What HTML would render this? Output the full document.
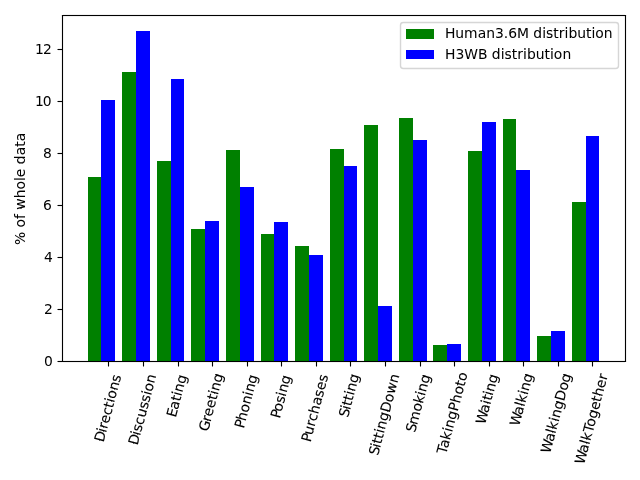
<!DOCTYPE html>
<html lang="en">
<head>
<meta charset="utf-8">
<title>Human3.6M vs H3WB distribution</title>
<style>
html,body{margin:0;padding:0;background:#fff;}
body{width:640px;height:480px;overflow:hidden;}
svg{display:block;}
text{font-family:"DejaVu Sans","Liberation Sans",sans-serif;font-size:13.8889px;fill:#000;}
.xl{stroke:#000;stroke-width:0.1px;}
.yl{stroke:#000;stroke-width:0.04px;}
.lg{stroke:#000;stroke-width:0.03px;}
.bar{shape-rendering:crispEdges;}
.ln{stroke:#000;stroke-width:1.1111;fill:none;}
</style>
</head>
<body>
<svg width="640" height="480" viewBox="0 0 640 480">
<rect x="0" y="0" width="640" height="480" fill="#ffffff"/>
<g class="bar" fill="#008000">
<rect x="88" y="177" width="13" height="184"/>
<rect x="122" y="72" width="14" height="289"/>
<rect x="157" y="161" width="14" height="200"/>
<rect x="191" y="229" width="14" height="132"/>
<rect x="226" y="150" width="14" height="211"/>
<rect x="261" y="234" width="13" height="127"/>
<rect x="295" y="246" width="14" height="115"/>
<rect x="330" y="149" width="14" height="212"/>
<rect x="364" y="125" width="14" height="236"/>
<rect x="399" y="118" width="14" height="243"/>
<rect x="433" y="345" width="14" height="16"/>
<rect x="468" y="151" width="14" height="210"/>
<rect x="503" y="119" width="13" height="242"/>
<rect x="537" y="336" width="14" height="25"/>
<rect x="572" y="202" width="14" height="159"/>
</g>
<g class="bar" fill="#0000ff">
<rect x="101" y="100" width="14" height="261"/>
<rect x="136" y="31" width="14" height="330"/>
<rect x="171" y="79" width="13" height="282"/>
<rect x="205" y="221" width="14" height="140"/>
<rect x="240" y="187" width="14" height="174"/>
<rect x="274" y="222" width="14" height="139"/>
<rect x="309" y="255" width="14" height="106"/>
<rect x="344" y="166" width="13" height="195"/>
<rect x="378" y="306" width="14" height="55"/>
<rect x="413" y="140" width="14" height="221"/>
<rect x="447" y="344" width="14" height="17"/>
<rect x="482" y="122" width="14" height="239"/>
<rect x="516" y="170" width="14" height="191"/>
<rect x="551" y="331" width="14" height="30"/>
<rect x="586" y="136" width="13" height="225"/>
</g>
<g class="ln">
<line x1="108.5" y1="361.4" x2="108.5" y2="366.5"/>
<line x1="143.5" y1="361.4" x2="143.5" y2="366.5"/>
<line x1="178.5" y1="361.4" x2="178.5" y2="366.5"/>
<line x1="212.5" y1="361.4" x2="212.5" y2="366.5"/>
<line x1="247.5" y1="361.4" x2="247.5" y2="366.5"/>
<line x1="281.5" y1="361.4" x2="281.5" y2="366.5"/>
<line x1="316.5" y1="361.4" x2="316.5" y2="366.5"/>
<line x1="350.5" y1="361.4" x2="350.5" y2="366.5"/>
<line x1="385.5" y1="361.4" x2="385.5" y2="366.5"/>
<line x1="420.5" y1="361.4" x2="420.5" y2="366.5"/>
<line x1="454.5" y1="361.4" x2="454.5" y2="366.5"/>
<line x1="489.5" y1="361.4" x2="489.5" y2="366.5"/>
<line x1="523.5" y1="361.4" x2="523.5" y2="366.5"/>
<line x1="558.5" y1="361.4" x2="558.5" y2="366.5"/>
<line x1="592.5" y1="361.4" x2="592.5" y2="366.5"/>
<line x1="62.6" y1="361.5" x2="57.5" y2="361.5"/>
<line x1="62.6" y1="309.5" x2="57.5" y2="309.5"/>
<line x1="62.6" y1="257.5" x2="57.5" y2="257.5"/>
<line x1="62.6" y1="205.5" x2="57.5" y2="205.5"/>
<line x1="62.6" y1="153.5" x2="57.5" y2="153.5"/>
<line x1="62.6" y1="101.5" x2="57.5" y2="101.5"/>
<line x1="62.6" y1="49.5" x2="57.5" y2="49.5"/>
<rect class="bar" x="63" y="14" width="562" height="3" fill="#000" stroke="none" opacity="0.055"/>
<rect class="bar" x="63" y="360" width="562" height="3" fill="#000" stroke="none" opacity="0.055"/>
<line x1="62.5" y1="14.95" x2="62.5" y2="362.05"/>
<line x1="625.5" y1="14.95" x2="625.5" y2="362.05"/>
<line x1="61.95" y1="15.5" x2="626.05" y2="15.5"/>
<line x1="61.95" y1="361.5" x2="626.05" y2="361.5"/>
</g>
<rect x="400.5" y="22.5" width="218" height="46" rx="2.778" ry="2.778" fill="#ffffff" stroke="#cccccc" stroke-width="1.3889" opacity="0.8"/>
<rect class="bar" x="406" y="29" width="28" height="10" fill="#008000"/>
<rect class="bar" x="406" y="50" width="28" height="9" fill="#0000ff"/>
<text id="t0" class="xl" transform="translate(103.359 443.369) rotate(-75)" x="0.750 10.422 14.281 19.688 28.219 35.844 41.531 45.391 53.875 62.422" y="0">Directions</text>
<text id="t1" class="xl" transform="translate(137.294 446.765) rotate(-75)" x="1.000 10.922 14.781 21.766 29.641 38.438 45.406 52.641 56.500 64.984" y="0">Discussion</text>
<text id="t2" class="xl" transform="translate(175.484 418.722) rotate(-75)" x="0.750 8.766 17.266 22.703 26.562 35.344" y="0">Eating</text>
<text id="t3" class="xl" transform="translate(207.694 432.816) rotate(-75)" x="0.750 10.750 16.141 24.688 33.219 38.656 42.516 51.312" y="0">Greeting</text>
<text id="t4" class="xl" transform="translate(243.444 429.732) rotate(-75)" x="0.750 8.359 17.156 25.641 34.188 38.297 46.828" y="0">Phoning</text>
<text id="t5" class="xl" transform="translate(279.499 419.746) rotate(-75)" x="0.750 7.859 16.359 23.328 27.438 35.984" y="0">Posing</text>
<text id="t6" class="xl" transform="translate(310.205 443.595) rotate(-75)" x="0.750 8.109 16.906 22.312 29.938 38.984 47.234 54.469 63.000" y="0">Purchases</text>
<text id="t7" class="xl" transform="translate(347.739 418.718) rotate(-75)" x="0.750 8.547 12.406 17.844 23.531 27.391 36.188" y="0">Sitting</text>
<text id="t8" class="xl" transform="translate(377.757 456.701) rotate(-75)" x="0.750 8.547 12.406 17.844 23.531 27.391 36.188 44.984 55.672 64.172 75.516" y="0">SittingDown</text>
<text id="t9" class="xl" transform="translate(414.823 433.901) rotate(-75)" x="1.000 8.797 22.312 30.797 38.594 42.688 51.484" y="0">Smoking</text>
<text id="t10" class="xl" transform="translate(446.063 454.715) rotate(-75)" x="0.000 6.172 14.422 22.703 26.562 35.359 44.156 52.531 61.578 69.812 75.500" y="0">TakingPhoto</text>
<text id="t11" class="xl" transform="translate(484.732 425.699) rotate(-75)" x="0.750 12.578 21.078 25.188 30.375 34.469 43.266" y="0">Waiting</text>
<text id="t12" class="xl" transform="translate(518.811 427.577) rotate(-75)" x="0.750 12.578 21.078 24.938 33.219 37.078 45.859" y="0">Walking</text>
<text id="t13" class="xl" transform="translate(549.856 454.596) rotate(-75)" x="0.500 12.828 21.078 24.938 33.219 37.078 45.859 54.672 65.609 73.844" y="0">WalkingDog</text>
<text id="t14" class="xl" transform="translate(583.812 465.541) rotate(-75)" x="0.500 12.578 21.078 24.938 33.219 39.328 47.828 56.625 64.922 70.609 79.156 87.688" y="0">WalkTogether</text>
<text id="t15" x="43.905" y="366.000">0</text>
<text id="t16" x="43.949" y="314.000">2</text>
<text id="t17" x="43.880" y="262.000">4</text>
<text id="t18" x="42.956" y="210.000">6</text>
<text id="t19" x="42.889" y="158.000">8</text>
<text id="t20" x="34.959 42.771" y="106.000">10</text>
<text id="t21" x="34.892 42.954" y="54.000">12</text>
<text id="t22" class="yl" transform="translate(24.573 188.944) rotate(-90)" x="-56.039 -42.867 -38.445 -29.961 -25.086 -20.914 -9.320 -0.523 7.961 11.820 20.352 24.758 33.820 42.320 47.758" y="0">% of whole data</text>
<text id="t23" class="lg" x="444.954 455.126 463.923 477.688 486.188 494.985 503.813 508.220 517.048 529.016 533.188 542.235 546.095 553.329 558.766 564.470 568.454 577.126 585.923 591.485 595.220 603.704" y="38.000">Human3.6M distribution</text>
<text id="t24" class="lg" x="445.059 455.481 464.309 478.028 487.543 491.715 500.762 504.621 511.856 517.293 522.996 526.981 535.653 544.450 549.887 553.746 562.481" y="59.000">H3WB distribution</text>
</svg>
</body>
</html>
